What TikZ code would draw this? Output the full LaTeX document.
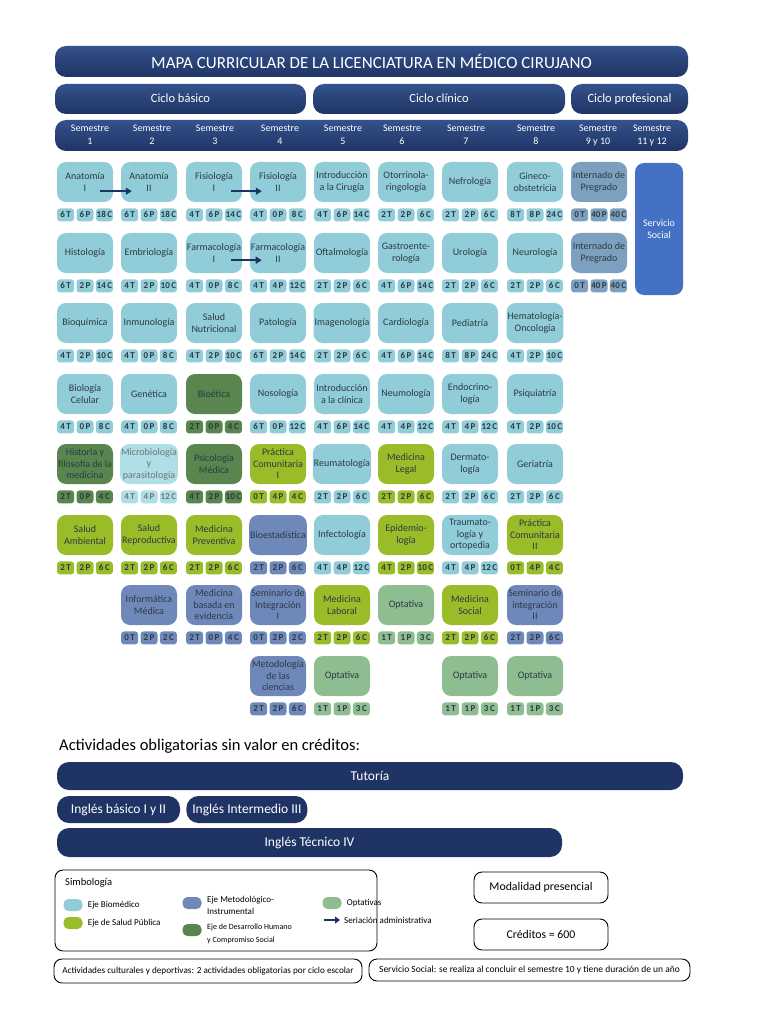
\documentclass[tikz,border=0pt]{standalone}
\usepackage{fontspec}
\setmainfont{Carlito}
\usetikzlibrary{positioning, arrows.meta, shapes.geometric}

\definecolor{Marino}{RGB}{31,52,100}
\definecolor{MarinoClaro}{RGB}{52,82,140}
\definecolor{ColBiomedico}{RGB}{144,205,216}
\definecolor{ColBiomedicoClaro}{RGB}{174,222,230}
\definecolor{ColSalud}{RGB}{154,188,40}
\definecolor{ColMetodo}{RGB}{111,136,186}
\definecolor{ColDesarrollo}{RGB}{88,134,78}
\definecolor{ColOptativa}{RGB}{141,189,145}
\definecolor{ColInternado}{RGB}{124,160,192}
\definecolor{ColServicio}{RGB}{68,113,196}
\definecolor{TextoCaja}{RGB}{45,58,66}

\tikzstyle{Barra}=[rectangle, rounded corners=11pt, top color=MarinoClaro, bottom color=Marino, text=white, inner sep=0pt]
\tikzstyle{Ciclo}=[Barra, minimum height=30pt, text height=10pt, text depth=2pt, font=\fontsize{12.5}{14}\selectfont]
\tikzstyle{BarraPlana}=[rectangle, rounded corners=12pt, fill=Marino, text=white, inner sep=0pt, font=\fontsize{13.5}{15}\selectfont]
\tikzstyle{Semestre}=[align=center, text=white, font=\fontsize{10}{13}\selectfont]
\tikzstyle{Materia}=[rectangle, rounded corners=9pt, minimum width=56pt, minimum height=40pt, inner sep=1pt, align=center, text=TextoCaja, font=\fontsize{10}{11.5}\selectfont]
\tikzstyle{Creditos}=[rectangle, rounded corners=3pt, minimum width=17pt, minimum height=13pt, inner sep=0.5pt, text=TextoCaja, font=\fontsize{9}{9}\selectfont\bfseries]
\tikzstyle{Biomedico}=[fill=ColBiomedico]
\tikzstyle{BiomedicoClaro}=[fill=ColBiomedicoClaro, text=black!55]
\tikzstyle{SaludPublica}=[fill=ColSalud]
\tikzstyle{Metodologico}=[fill=ColMetodo]
\tikzstyle{Desarrollo}=[fill=ColDesarrollo]
\tikzstyle{Optativa}=[fill=ColOptativa]
\tikzstyle{Internado}=[fill=ColInternado]
\tikzstyle{Seriacion}=[-{Triangle[length=6pt, width=7pt]}, line width=2.2pt, draw=Marino]
\tikzstyle{Recuadro}=[rectangle, rounded corners=8pt, draw=black, line width=0.9pt, inner sep=0pt]
\tikzstyle{Muestra}=[rectangle, rounded corners=5pt, minimum width=19pt, minimum height=12pt, inner sep=0pt]
\tikzstyle{Leyenda}=[anchor=west, align=left, inner sep=0pt, font=\fontsize{9}{12.5}\selectfont]

% materia con sus tres recuadros de creditos
\newcommand{\Materia}[8]{%
	\node[Materia, #2]		(#1)		at (#3,#4)			{#5};
	\node[Creditos, #2]		(#1_p)		[below=6pt of #1]	{#7\,P};
	\node[Creditos, #2]		(#1_t)		[left=2pt of #1_p]	{#6\,T};
	\node[Creditos, #2]		(#1_c)		[right=2pt of #1_p]	{#8\,C};
}

\begin{document}
\begin{tikzpicture}[x=1pt, y=-1pt]
			\useasboundingbox (0,0) rectangle (768,1024);

			%Encabezado
			\node[Barra, minimum width=633pt, minimum height=31pt, font=\fontsize{17}{19}\selectfont]	(titulo)	at (371.5,61.5)	{MAPA CURRICULAR DE LA LICENCIATURA EN MÉDICO CIRUJANO};
			\node[Ciclo, minimum width=251pt]	(basico)	at (180.5,99)	{Ciclo básico};
			\node[Ciclo, minimum width=252pt]	(clinico)	at (439,99)		{Ciclo clínico};
			\node[Ciclo, minimum width=117pt]	(profesional)	at (629.5,99)	{Ciclo profesional};
			\node[Barra, minimum width=633pt, minimum height=31pt]	(semestres)	at (371.5,135.5)	{};
			\foreach \x/\s [count=\i] in {90/1, 152/2, 215/3, 280/4, 343/5, 402/6, 466/7, 536/8, 598/9 y 10, 652/11 y 12}
				\node[Semestre]	(sem\i)	at (\x,136)	{Semestre\\\s\vphantom{y}};

			%Semestre 1
			\Materia{anat1}{Biomedico}{85}{182}{Anatomía\\I}{6}{6}{18}
			\Materia{histo}{Biomedico}{85}{253}{Histología}{6}{2}{14}
			\Materia{bioq}{Biomedico}{85}{323}{Bioquímica}{4}{2}{10}
			\Materia{biocel}{Biomedico}{85}{394}{Biología\\Celular}{4}{0}{8}
			\Materia{histfil}{Desarrollo}{85}{464}{Historia y\\filosofía de la\\medicina}{2}{0}{4}
			\Materia{salamb}{SaludPublica}{85}{535}{Salud\\Ambiental}{2}{2}{6}

			%Semestre 2
			\Materia{anat2}{Biomedico}{149}{182}{Anatomía\\II}{6}{6}{18}
			\Materia{embrio}{Biomedico}{149}{253}{Embriología}{4}{2}{10}
			\Materia{inmuno}{Biomedico}{149}{323}{Inmunología}{4}{0}{8}
			\Materia{genet}{Biomedico}{149}{394}{Genética}{4}{0}{8}
			\Materia{micro}{BiomedicoClaro}{149}{464}{Microbiología\\y\\parasitología}{4}{4}{12}
			\Materia{salrep}{SaludPublica}{149}{535}{Salud\\Reproductiva}{2}{2}{6}
			\Materia{inform}{Metodologico}{149}{605}{Informática\\Médica}{0}{2}{2}

			%Semestre 3
			\Materia{fisio1}{Biomedico}{214}{182}{Fisiología\\I}{4}{6}{14}
			\Materia{farma1}{Biomedico}{214}{253}{Farmacología\\I}{4}{0}{8}
			\Materia{salnut}{Biomedico}{214}{323}{Salud\\Nutricional}{4}{2}{10}
			\Materia{bioet}{Desarrollo}{214}{394}{Bioética}{2}{0}{4}
			\Materia{psico}{Desarrollo}{214}{464}{Psicología\\Médica}{4}{2}{10}
			\Materia{medprev}{SaludPublica}{214}{535}{Medicina\\Preventiva}{2}{2}{6}
			\Materia{mbe}{Metodologico}{214}{605}{Medicina\\basada en\\evidencia}{2}{0}{4}

			%Semestre 4
			\Materia{fisio2}{Biomedico}{278}{182}{Fisiología\\II}{4}{0}{8}
			\Materia{farma2}{Biomedico}{278}{253}{Farmacología\\II}{4}{4}{12}
			\Materia{pato}{Biomedico}{278}{323}{Patología}{6}{2}{14}
			\Materia{noso}{Biomedico}{278}{394}{Nosología}{6}{0}{12}
			\Materia{praccom1}{SaludPublica}{278}{464}{Práctica\\Comunitaria\\I}{0}{4}{4}
			\Materia{bioest}{Metodologico}{278}{535}{Bioestadística}{2}{2}{6}
			\Materia{semint1}{Metodologico}{278}{605}{Seminario de\\Integración\\I}{0}{2}{2}
			\Materia{metod}{Metodologico}{278}{676}{Metodología\\de las\\ciencias}{2}{2}{6}

			%Semestre 5
			\Materia{introcir}{Biomedico}{342}{182}{Introducción\\a la Cirugía}{4}{6}{14}
			\Materia{oftal}{Biomedico}{342}{253}{Oftalmología}{2}{2}{6}
			\Materia{imag}{Biomedico}{342}{323}{Imagenología}{2}{2}{6}
			\Materia{introcli}{Biomedico}{342}{394}{Introducción\\a la clínica}{4}{6}{14}
			\Materia{reuma}{Biomedico}{342}{464}{Reumatología}{2}{2}{6}
			\Materia{infecto}{Biomedico}{342}{535}{Infectología}{4}{4}{12}
			\Materia{medlab}{SaludPublica}{342}{605}{Medicina\\Laboral}{2}{2}{6}
			\Materia{opt5}{Optativa}{342}{676}{Optativa}{1}{1}{3}

			%Semestre 6
			\Materia{otorrino}{Biomedico}{406}{182}{Otorrinola-\\ringología}{2}{2}{6}
			\Materia{gastro}{Biomedico}{406}{253}{Gastroente-\\rología}{4}{6}{14}
			\Materia{cardio}{Biomedico}{406}{323}{Cardiología}{4}{6}{14}
			\Materia{neumo}{Biomedico}{406}{394}{Neumología}{4}{4}{12}
			\Materia{medleg}{SaludPublica}{406}{464}{Medicina\\Legal}{2}{2}{6}
			\Materia{epidem}{SaludPublica}{406}{535}{Epidemio-\\logía}{4}{2}{10}
			\Materia{opt6}{Optativa}{406}{605}{Optativa}{1}{1}{3}

			%Semestre 7
			\Materia{nefro}{Biomedico}{470}{182}{Nefrología}{2}{2}{6}
			\Materia{uro}{Biomedico}{470}{253}{Urología}{2}{2}{6}
			\Materia{pedia}{Biomedico}{470}{323}{Pediatría}{8}{8}{24}
			\Materia{endo}{Biomedico}{470}{394}{Endocrino-\\logía}{4}{4}{12}
			\Materia{derma}{Biomedico}{470}{464}{Dermato-\\logía}{2}{2}{6}
			\Materia{trauma}{Biomedico}{470}{535}{Traumato-\\logía y\\ortopedia}{4}{4}{12}
			\Materia{medsoc}{SaludPublica}{470}{605}{Medicina\\Social}{2}{2}{6}
			\Materia{opt7}{Optativa}{470}{676}{Optativa}{1}{1}{3}

			%Semestre 8
			\Materia{gineco}{Biomedico}{535}{182}{Gineco-\\obstetricia}{8}{8}{24}
			\Materia{neuro}{Biomedico}{535}{253}{Neurología}{2}{2}{6}
			\Materia{hemato}{Biomedico}{535}{323}{Hematología-\\Oncología}{4}{2}{10}
			\Materia{psiq}{Biomedico}{535}{394}{Psiquiatría}{4}{2}{10}
			\Materia{geria}{Biomedico}{535}{464}{Geriatría}{2}{2}{6}
			\Materia{praccom2}{SaludPublica}{535}{535}{Práctica\\Comunitaria\\II}{0}{4}{4}
			\Materia{semint2}{Metodologico}{535}{605}{Seminario de\\integración\\II}{2}{2}{6}
			\Materia{opt8}{Optativa}{535}{676}{Optativa}{1}{1}{3}

			%Semestres 9 a 12
			\Materia{intern1}{Internado}{599}{182}{Internado de\\Pregrado}{0}{40}{40}
			\Materia{intern2}{Internado}{599}{253}{Internado de\\Pregrado}{0}{40}{40}
			\node[Materia, fill=ColServicio, text=white, minimum width=48pt, minimum height=132pt]	(servicio)	at (659,229)	{Servicio\\Social};

			%Seriacion
			\draw[Seriacion] ([xshift=-13pt, yshift=11pt]anat1.south east) -- ([xshift=11pt, yshift=11pt]anat2.south west);
			\draw[Seriacion] ([xshift=-11pt, yshift=11pt]fisio1.south east) -- ([xshift=12pt, yshift=11pt]fisio2.south west);
			\draw[Seriacion] ([xshift=-11pt, yshift=13pt]farma1.south east) -- ([xshift=12pt, yshift=13pt]farma2.south west);

			%Actividades sin creditos
			\node[anchor=west, inner sep=0pt, font=\fontsize{16.5}{18}\selectfont]	(actividades)	at (59,746)	{Actividades obligatorias sin valor en créditos:};
			\node[BarraPlana, minimum width=626pt, minimum height=28pt]	(tutoria)	at (370,776)	{Tutoría};
			\node[BarraPlana, minimum width=123pt, minimum height=27pt]	(ingles1)	at (118.5,809.5)	{Inglés básico I y II};
			\node[BarraPlana, minimum width=121pt, minimum height=27pt]	(ingles3)	[right=6pt of ingles1]	{Inglés Intermedio III};
			\node[BarraPlana, minimum width=505pt, minimum height=29pt]	(ingles4)	at (309.5,842.5)	{Inglés Técnico IV};

			%Simbologia
			\node[Recuadro, minimum width=322pt, minimum height=81pt]	(simbologia)	at (216,910.5)	{};
			\node[Leyenda, font=\fontsize{10.5}{12}\selectfont]	(simb_titulo)	at (65,883)	{Simbología};
			\node[Muestra, fill=ColBiomedico]	(m_bio)	at (73,905)	{};
			\node[Leyenda]	(l_bio)	[right=5pt of m_bio]	{Eje Biomédico};
			\node[Muestra, fill=ColSalud]	(m_salud)	at (73,923)	{};
			\node[Leyenda]	(l_salud)	[right=5pt of m_salud]	{Eje de Salud Pública};
			\node[Muestra, fill=ColMetodo]	(m_met)	at (192,903)	{};
			\node[Leyenda, anchor=north west]	(l_met)	at (207,896)	{Eje Metodológico-\\Instrumental};
			\node[Muestra, fill=ColDesarrollo]	(m_des)	at (192,930)	{};
			\node[Leyenda, anchor=north west, font=\fontsize{8}{12.5}\selectfont]	(l_des)	at (207,924)	{Eje de Desarrollo Humano\\y Compromiso Social};
			\node[Muestra, fill=ColOptativa]	(m_opt)	at (332,903)	{};
			\node[Leyenda]	(l_opt)	[right=5pt of m_opt]	{Optativas};
			\coordinate	(ser_ini)	at (324,920);
			\coordinate	(ser_fin)	at (340,920);
			\draw[Seriacion, line width=2.2pt, -{Triangle[length=5pt, width=7pt]}] (ser_ini) -- (ser_fin);
			\node[Leyenda]	(l_ser)	[right=4pt of ser_fin]	{Seriación administrativa};

			%Notas
			\node[Recuadro, minimum width=134pt, minimum height=31pt, font=\fontsize{11.8}{13}\selectfont]	(modalidad)	at (541,887.5)	{Modalidad presencial};
			\node[Recuadro, minimum width=134pt, minimum height=31pt, font=\fontsize{11.8}{13}\selectfont]	(creditos)	at (541,934.5)	{Créditos = 600};
			\node[Recuadro, minimum width=308pt, minimum height=24pt, font=\fontsize{9.2}{10}\selectfont]	(culturales)	at (208,971)	{Actividades culturales y deportivas: 2 actividades obligatorias por ciclo escolar};
			\node[Recuadro, minimum width=321pt, minimum height=22pt, font=\fontsize{9.5}{10}\selectfont]	(nota_servicio)	at (529.5,970)	{Servicio Social: se realiza al concluir el semestre 10 y tiene duración de un año};

		\end{tikzpicture}
\end{document}
